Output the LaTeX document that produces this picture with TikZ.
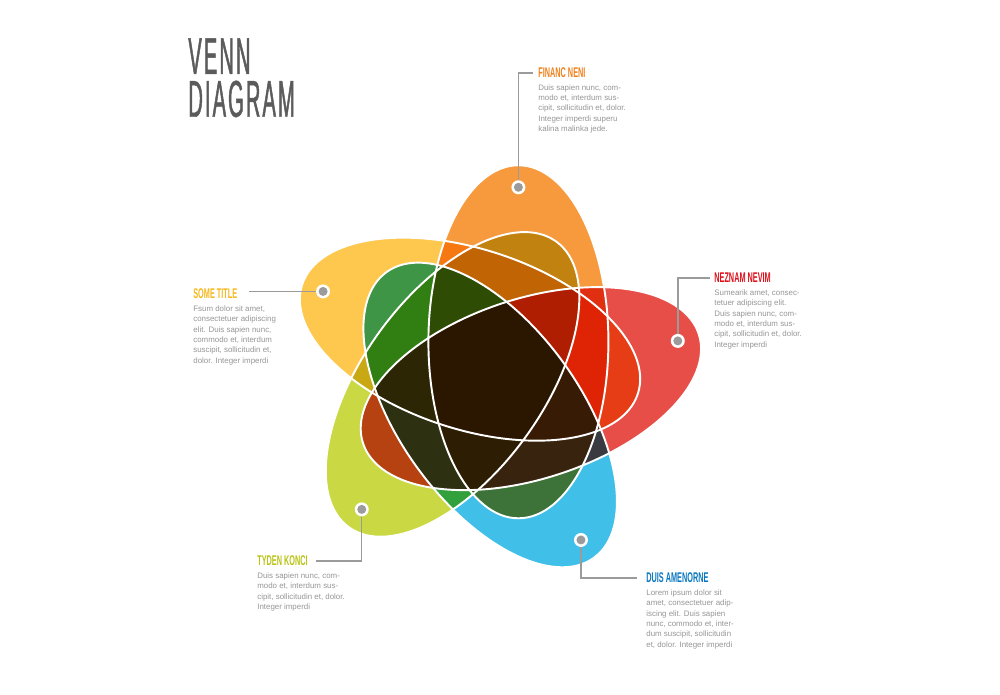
\documentclass[tikz,border=0pt]{standalone}
\usepackage{fontspec}
\setmainfont{Liberation Sans}
\newfontfamily\titlefont[FakeStretch=0.39,LetterSpace=4,FakeBold=0.9]{Liberation Sans}
\newfontfamily\headfont[FakeStretch=0.52]{Liberation Sans Bold}
\usetikzlibrary{calc}

\definecolor{petalO}{RGB}{247,154,62}
\definecolor{petalR}{RGB}{232,78,72}
\definecolor{petalB}{RGB}{64,191,232}
\definecolor{petalL}{RGB}{201,216,67}
\definecolor{petalY}{RGB}{254,200,78}
\definecolor{headO}{RGB}{240,130,30}
\definecolor{headR}{RGB}{222,16,26}
\definecolor{headB}{RGB}{10,120,192}
\definecolor{headL}{RGB}{185,196,20}
\definecolor{headY}{RGB}{246,184,28}
\definecolor{titlegray}{RGB}{91,91,91}
\definecolor{bodygray}{RGB}{150,150,150}
\definecolor{leadgray}{RGB}{155,155,155}

\begin{document}
\begin{tikzpicture}[x=0.02cm,y=0.02cm,
    petal/.style={blend mode=multiply},
    rim/.style={draw=white,line width=1.1pt},
    leader/.style={draw=leadgray,line width=0.8pt},
    title/.style={font=\titlefont\fontsize{29.4}{24.4}\selectfont,text=titlegray,align=left,inner sep=0pt,anchor=north west},
    head/.style={font=\headfont\fontsize{8}{9}\selectfont,inner sep=0pt,anchor=base west},
    body/.style={font=\fontsize{4.5}{5.9}\selectfont,text=bodygray,align=left,inner sep=0pt,anchor=north west}]
        \useasboundingbox (0,0) rectangle (1000,695);
        \fill[white] (0,0) rectangle (1000,695);
        % title
        \node[title] (title) at (188,657) {VENN\\DIAGRAM};
        % five petals, 72 degrees apart round the middle
        \begin{scope}[shift={(492.4,321.2)}]
        \fill[petalO,petal] (26,32) ellipse[x radius=90,y radius=176.5];
        \fill[petalR,petal,rotate=-72] (26,32) ellipse[x radius=90,y radius=176.5];
        \fill[petalB,petal,rotate=-144] (26,32) ellipse[x radius=90,y radius=176.5];
        \fill[petalL,petal,rotate=-216] (26,32) ellipse[x radius=90,y radius=176.5];
        \fill[petalY,petal,rotate=-288] (26,32) ellipse[x radius=90,y radius=176.5];
        % white rims
        \foreach \a in {0,-72,-144,-216,-288}
          \draw[rim,rotate=\a] (26,32) ellipse[x radius=90,y radius=176.5];
        % pins on the petal axes
        \coordinate (pinO) at (82.06:188.3);
        \coordinate (pinR) at (10.06:188.3);
        \coordinate (pinB) at (-61.94:188.3);
        \coordinate (pinL) at (-133.94:188.3);
        \coordinate (pinY) at (154.06:188.3);
        \end{scope}
        % headings
        \node[head,text=headO] (hfin) at (538,617) {FINANC NENI};
        \node[head,text=headR] (hnez) at (714,412) {NEZNAM NEVIM};
        \node[head,text=headB] (hdui) at (646,112) {DUIS AMENORNE};
        \node[head,text=headL] (htyd) at (257,129) {TYDEN KONCI};
        \node[head,text=headY] (hsom) at (193,396) {SOME TITLE};
        % text blocks
        \node[body] (tfin) at ($(hfin.base west)+(0,-6.2)$) {Duis sapien nunc, com-\\modo et, interdum sus-\\cipit, sollicitudin et, dolor.\\Integer imperdi superu\\kalina malinka jede.};
        \node[body] (tnez) at ($(hnez.base west)+(0,-6.2)$) {Sumearik amet, consec-\\tetuer adipiscing elit.\\Duis sapien nunc, com-\\modo et, interdum sus-\\cipit, sollicitudin et, dolor.\\Integer imperdi};
        \node[body] (tdui) at ($(hdui.base west)+(0,-6.2)$) {Lorem ipsum dolor sit\\amet, consectetuer adip-\\iscing elit. Duis sapien\\nunc, commodo et, inter-\\dum suscipit, sollicitudin\\et, dolor. Integer imperdi};
        \node[body] (ttyd) at ($(htyd.base west)+(0,-6.2)$) {Duis sapien nunc, com-\\modo et, interdum sus-\\cipit, sollicitudin et, dolor.\\Integer imperdi};
        \node[body] (tsom) at ($(hsom.base west)+(0,-6.2)$) {Fsum dolor sit amet,\\consectetuer adipiscing\\elit. Duis sapien nunc,\\commodo et, interdum\\suscipit, sollicitudin et,\\dolor. Integer imperdi};
        % leaders from pins to headings
        \draw[leader] (pinO) |- ($(hfin.west)+(-5,0)$);
        \draw[leader] (pinR) |- ($(hnez.west)+(-4,0)$);
        \draw[leader] (pinB) |- ($(hdui.west)+(-9,0)$);
        \draw[leader] (pinL) |- ($(htyd.east)+(8,0)$);
        \draw[leader] (pinY) -- ($(hsom.east |- pinY)+(11,0)$);
        % pin heads
        \foreach \p in {pinO,pinR,pinB,pinL,pinY}{
          \fill[white] (\p) circle[radius=7];
          \fill[leadgray] (\p) circle[radius=4.5];
        }
      \end{tikzpicture}
\end{document}
